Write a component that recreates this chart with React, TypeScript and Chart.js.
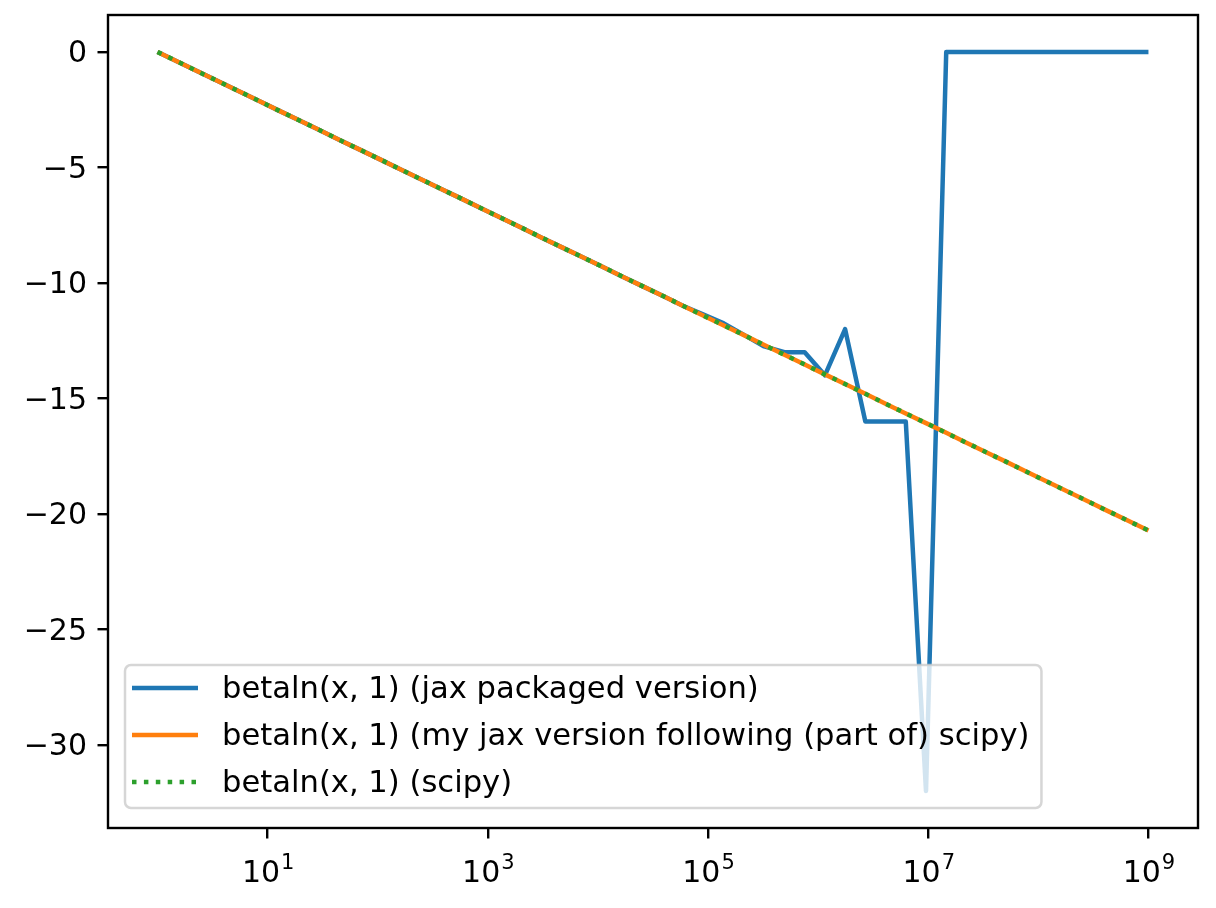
import React, { useEffect, useRef } from "react";
import { Chart, registerables } from "chart.js";

Chart.register(...registerables);

// x sample points (logspace 1 .. 1e9, 50 points)
const xValues: number[] = [
  1, 1.5264, 2.33, 3.5565, 5.4287, 8.2864, 12.649, 19.307, 29.471, 44.984,
  68.665, 104.81, 159.99, 244.21, 372.76, 568.99, 868.51, 1325.7, 2023.6, 3088.8,
  4714.9, 7196.9, 10985, 16768, 25595, 39069, 59636, 91030, 138950, 212095,
  323746, 494171, 754312, 1151395, 1757511, 2682696, 4094915, 6250552, 9540955, 14563485,
  22229965, 33932218, 51794747, 79060432, 120679264, 184206997, 281176870, 429193426, 655128557, 1000000000,
];

// betaln(x, 1) (jax packaged version)
const jaxPackaged: number[] = [
  0, -0.42, -0.85, -1.27, -1.69, -2.11, -2.54, -2.96, -3.38, -3.81,
  -4.23, -4.65, -5.08, -5.5, -5.92, -6.34, -6.77, -7.19, -7.61, -8.04,
  -8.46, -8.88, -9.3, -9.73, -10.15, -10.57, -11.0, -11.375, -11.75, -12.25,
  -12.75, -13, -13, -14, -12, -16, -16, -16, -32, 0,
  0, 0, 0, 0, 0, 0, 0, 0, 0, 0,
];

// betaln(x, 1) (my jax version following (part of) scipy)
const myJax: number[] = [
  0, -0.42, -0.85, -1.27, -1.69, -2.11, -2.54, -2.96, -3.38, -3.81,
  -4.23, -4.65, -5.08, -5.5, -5.92, -6.34, -6.77, -7.19, -7.61, -8.04,
  -8.46, -8.88, -9.3, -9.73, -10.15, -10.57, -11.0, -11.42, -11.84, -12.26,
  -12.69, -13.11, -13.53, -13.96, -14.38, -14.8, -15.23, -15.65, -16.07, -16.49,
  -16.92, -17.34, -17.76, -18.19, -18.61, -19.03, -19.45, -19.88, -20.3, -20.72,
];

// betaln(x, 1) (scipy)
const scipyVals: number[] = [
  0, -0.42, -0.85, -1.27, -1.69, -2.11, -2.54, -2.96, -3.38, -3.81,
  -4.23, -4.65, -5.08, -5.5, -5.92, -6.34, -6.77, -7.19, -7.61, -8.04,
  -8.46, -8.88, -9.3, -9.73, -10.15, -10.57, -11.0, -11.42, -11.84, -12.26,
  -12.69, -13.11, -13.53, -13.96, -14.38, -14.8, -15.23, -15.65, -16.07, -16.49,
  -16.92, -17.34, -17.76, -18.19, -18.61, -19.03, -19.45, -19.88, -20.3, -20.72,
];

const seriesLabels: string[] = [
  "betaln(x, 1) (jax packaged version)",
  "betaln(x, 1) (my jax version following (part of) scipy)",
  "betaln(x, 1) (scipy)",
];

const xTickValues: number[] = [10, 1e3, 1e5, 1e7, 1e9];
const xTickBases: string[] = ["10", "10", "10", "10", "10"];
const xTickExponents: string[] = ["1", "3", "5", "7", "9"];
const yTickValues: number[] = [-30, -25, -20, -15, -10, -5, 0];

const FONT = '"DejaVu Sans", sans-serif';

const framePlugin = {
  id: "mplFrameLegend",
  afterDatasetsDraw(chart: any) {
    const { ctx, chartArea } = chart;
    const { left, right, top, bottom } = chartArea;
    ctx.save();
    // axes frame
    ctx.strokeStyle = "#000";
    ctx.lineWidth = 2.4;
    ctx.strokeRect(left, top, right - left, bottom - top);

    // x tick labels with superscript exponents
    const xs = chart.scales.x;
    ctx.fillStyle = "#000";
    ctx.textBaseline = "alphabetic";
    xs.ticks.forEach((t: any, i: number) => {
      const px = xs.getPixelForValue(t.value);
      const base = xTickBases[i] ?? "";
      const exp = xTickExponents[i] ?? "";
      ctx.font = `30px ${FONT}`;
      const bw = ctx.measureText(base).width;
      ctx.font = `21px ${FONT}`;
      const ew = ctx.measureText(exp).width;
      const startX = px - (bw + ew) / 2;
      ctx.textAlign = "left";
      ctx.font = `30px ${FONT}`;
      ctx.fillText(base, startX, bottom + 54);
      ctx.font = `21px ${FONT}`;
      ctx.fillText(exp, startX + bw + 1, bottom + 41);
    });

    // legend (lower left, inside axes)
    ctx.font = `30.6px ${FONT}`;
    const dsets = chart.data.datasets;
    let textW = 0;
    dsets.forEach((d: any) => {
      textW = Math.max(textW, ctx.measureText(d.label).width);
    });
    const x0 = left + 17;
    const h = 143;
    const y0 = bottom - 20 - h;
    const w = 97 + textW + 12;
    const r = 6;
    ctx.beginPath();
    ctx.moveTo(x0 + r, y0);
    ctx.lineTo(x0 + w - r, y0);
    ctx.arcTo(x0 + w, y0, x0 + w, y0 + r, r);
    ctx.lineTo(x0 + w, y0 + h - r);
    ctx.arcTo(x0 + w, y0 + h, x0 + w - r, y0 + h, r);
    ctx.lineTo(x0 + r, y0 + h);
    ctx.arcTo(x0, y0 + h, x0, y0 + h - r, r);
    ctx.lineTo(x0, y0 + r);
    ctx.arcTo(x0, y0, x0 + r, y0, r);
    ctx.closePath();
    ctx.fillStyle = "rgba(255,255,255,0.8)";
    ctx.fill();
    ctx.strokeStyle = "rgba(204,204,204,0.8)";
    ctx.lineWidth = 2.5;
    ctx.stroke();

    dsets.forEach((d: any, i: number) => {
      const cy = y0 + 23 + i * 47;
      ctx.beginPath();
      ctx.strokeStyle = d.borderColor;
      ctx.lineWidth = d.borderWidth;
      ctx.lineCap = d.borderDash && d.borderDash.length ? "butt" : "butt";
      ctx.setLineDash(d.borderDash || []);
      ctx.moveTo(x0 + 7, cy);
      ctx.lineTo(x0 + 73, cy);
      ctx.stroke();
      ctx.setLineDash([]);
      ctx.fillStyle = "#000";
      ctx.textBaseline = "alphabetic";
      ctx.textAlign = "left";
      ctx.font = `30.6px ${FONT}`;
      ctx.fillText(d.label, x0 + 97, cy + 10);
    });
    ctx.restore();
  },
};

export default function App() {
  const canvasRef = useRef<HTMLCanvasElement | null>(null);

  useEffect(() => {
    if (!canvasRef.current) return;
    const mk = (vals: number[]) => xValues.map((x, i) => ({ x, y: vals[i] }));
    const chart = new Chart(canvasRef.current, {
      type: "line",
      data: {
        datasets: [
          {
            label: seriesLabels[0],
            data: mk(jaxPackaged),
            borderColor: "#1f77b4",
            borderWidth: 4.5,
            pointRadius: 0,
            borderJoinStyle: "round",
            borderCapStyle: "butt",
            tension: 0,
            order: 2,
          },
          {
            label: seriesLabels[1],
            data: mk(myJax),
            borderColor: "#ff7f0e",
            borderWidth: 4.5,
            pointRadius: 0,
            borderJoinStyle: "round",
            borderCapStyle: "butt",
            tension: 0,
            order: 1,
          },
          {
            label: seriesLabels[2],
            data: mk(scipyVals),
            borderColor: "#2ca02c",
            borderWidth: 4.5,
            borderDash: [4.5, 7.4],
            pointRadius: 0,
            borderCapStyle: "butt",
            tension: 0,
            order: 0,
          },
        ],
      } as any,
      options: {
        animation: false,
        responsive: true,
        maintainAspectRatio: false,
        layout: { padding: { top: 15, right: 18, left: 0, bottom: 0 } },
        plugins: {
          legend: { display: false },
          tooltip: { enabled: false },
          title: { display: false },
        },
        scales: {
          x: {
            type: "logarithmic",
            min: Math.pow(10, -0.45),
            max: Math.pow(10, 9.45),
            afterBuildTicks: (scale: any) => {
              scale.ticks = xTickValues.map((v) => ({ value: v }));
            },
            afterFit: (scale: any) => {
              scale.height = 80;
              scale.paddingLeft = 0;
              scale.paddingRight = 0;
            },
            grid: {
              display: true,
              drawOnChartArea: false,
              drawTicks: true,
              tickLength: 10.5,
              color: "#000",
              lineWidth: 2.4,
            },
            border: { display: false },
            ticks: {
              autoSkip: false,
              maxRotation: 0,
              color: "#000",
              padding: 6,
              font: { family: FONT, size: 30 },
              callback: () => "",
            },
          },
          y: {
            type: "linear",
            min: -33.6,
            max: 1.6,
            afterBuildTicks: (scale: any) => {
              scale.ticks = yTickValues.map((v) => ({ value: v }));
            },
            afterFit: (scale: any) => {
              scale.width = 108;
              scale.paddingTop = 0;
              scale.paddingBottom = 0;
            },
            grid: {
              display: true,
              drawOnChartArea: false,
              drawTicks: true,
              tickLength: 10.5,
              color: "#000",
              lineWidth: 2.4,
            },
            border: { display: false },
            ticks: {
              autoSkip: false,
              color: "#000",
              padding: 10.5,
              labelOffset: 2.5,
              font: { family: FONT, size: 30 },
              callback: (v: any) => (v < 0 ? "\u2212" + String(-v) : String(v)),
            },
          },
        },
      } as any,
      plugins: [framePlugin],
    });
    return () => chart.destroy();
  }, []);

  return (
    <div style={{ position: "absolute", left: 0, top: 0, width: 1216, height: 908, background: "#fff" }}>
      <canvas ref={canvasRef} />
    </div>
  );
}
